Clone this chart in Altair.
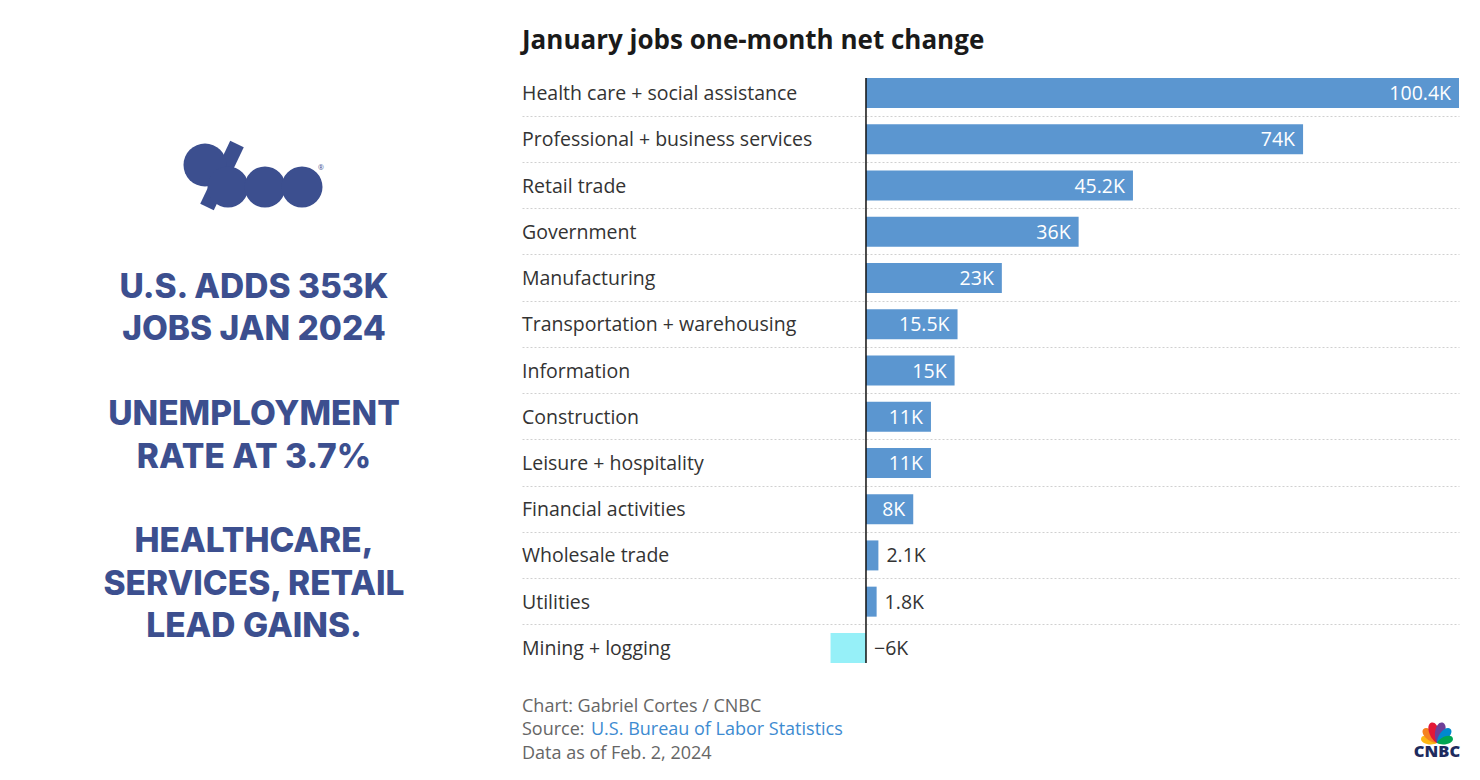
import altair as alt
import pandas as pd

categories = [
    "Health care + social assistance",
    "Professional + business services",
    "Retail trade",
    "Government",
    "Manufacturing",
    "Transportation + warehousing",
    "Information",
    "Construction",
    "Leisure + hospitality",
    "Financial activities",
    "Wholesale trade",
    "Utilities",
    "Mining + logging",
]
values = [100.4, 74, 45.2, 36, 23, 15.5, 15, 11, 11, 8, 2.1, 1.8, -6]
value_labels = ["100.4K", "74K", "45.2K", "36K", "23K", "15.5K", "15K", "11K", "11K",
                "8K", "2.1K", "1.8K", "\u22126K"]

headline = ["U.S. ADDS 353K", "JOBS JAN 2024", "", "UNEMPLOYMENT", "RATE AT 3.7%", "",
            "HEALTHCARE,", "SERVICES, RETAIL", "LEAD GAINS."]
title_text = "January jobs one-month net change"
credit = "Chart: Gabriel Cortes / CNBC"
source_prefix = "Source: "
source_name = "U.S. Bureau of Labor Statistics"
data_date = "Data as of Feb. 2, 2024"

feather_colors = ["#fdb813", "#f58220", "#e31837", "#6e3f98", "#0089cf", "#00a651"]
feather_angles = [287, 316, 345, 15, 44, 73]
feather_sizes = [1100, 1500, 1800, 1800, 1500, 1100]

POS = "#5b96d0"
NEG = "#96f0f8"
NAVY = "#3c4f8f"
FONT = "Open Sans"
HEAD_FONT = "Inter"
W, H = 937, 601

df = pd.DataFrame({"cat": categories, "value": values, "label": value_labels})
df["labx"] = df["value"].clip(lower=0)

yscale = alt.Scale(domain=categories, paddingInner=0, paddingOuter=0)
xscale = alt.Scale(domain=[-58.24, 100.4], nice=False, zero=False)
yaxis = alt.Axis(grid=True, gridDash=[2, 2], gridColor="#d0d0d0", labels=False,
                 ticks=False, domain=False, title=None, bandPosition=1,
                 values=categories[:12])
Y = alt.Y("cat:N", scale=yscale, axis=yaxis)

base = alt.Chart(df)
one = alt.Chart(pd.DataFrame({"z": [0]}))

bars = base.mark_bar(size=30).encode(
    x=alt.X("value:Q", scale=xscale, axis=None),
    x2=alt.datum(0),
    y=Y,
    color=alt.condition("datum.value < 0", alt.value(NEG), alt.value(POS)),
)

zero = one.mark_rule(color="#111111", strokeWidth=1.5).encode(
    x=alt.X("z:Q", scale=xscale, axis=None), y=alt.value(8), y2=alt.value(593)
)

cat_text = base.mark_text(align="left", baseline="middle", fontSize=19.5, font=FONT,
                          color="#333333", dy=1).encode(
    x=alt.value(0), y=Y, text="cat:N"
)

inside = base.transform_filter("datum.value >= 5").mark_text(
    align="right", baseline="middle", dx=-8, dy=1, fontSize=19.5, font=FONT, color="white"
).encode(x=alt.X("value:Q", scale=xscale, axis=None), y=Y, text="label:N")

outside = base.transform_filter("datum.value < 5").mark_text(
    align="left", baseline="middle", dx=8, dy=1, fontSize=19.5, font=FONT, color="#333333"
).encode(x=alt.X("labx:Q", scale=xscale, axis=None), y=Y, text="label:N")

title = one.mark_text(align="left", baseline="middle", fontSize=26, fontWeight="bold",
                      font=FONT, color="#1a1a1a").encode(
    x=alt.value(0), y=alt.value(-29), text=alt.value(title_text)
)

head_layers = []
for i, line in enumerate(headline):
    if not line:
        continue
    head_layers.append(
        one.mark_text(align="center", baseline="middle", fontSize=33.5, fontWeight=800,
                      font=HEAD_FONT, color=NAVY).encode(
            x=alt.value(-268), y=alt.value(218 + i * 42.4), text=alt.value(line))
    )

def foot(txt, xpos, ypos, col):
    return one.mark_text(align="left", baseline="middle", fontSize=18, font=FONT,
                         color=col).encode(x=alt.value(xpos), y=alt.value(ypos),
                                           text=alt.value(txt))

foots = [foot(credit, 0, 637, "#666666"), foot(source_prefix, 0, 660, "#666666"),
         foot(source_name, 69, 660, "#3d8bd1"), foot(data_date, 0, 684, "#666666")]

def dot(xp, yp, sz):
    return one.mark_point(shape="circle", filled=True, opacity=1, color=NAVY,
                          size=sz).encode(x=alt.value(xp), y=alt.value(yp))

logo = [
    one.mark_rule(color=NAVY, strokeWidth=15, strokeCap="butt").encode(
        x=alt.value(-285), x2=alt.value(-315), y=alt.value(74), y2=alt.value(137)),
    dot(-317, 95, 1849), dot(-294, 117, 1681), dot(-257, 117, 1681), dot(-220, 117, 1681),
    one.mark_text(fontSize=7, color=NAVY, font=FONT).encode(
        x=alt.value(-201), y=alt.value(98), text=alt.value("\u00ae")),
]

fdf = pd.DataFrame({"c": feather_colors, "a": feather_angles, "s": feather_sizes})
feathers = alt.Chart(fdf).mark_point(
    shape="M0,0 C-0.32,-0.3 -0.3,-1 0,-1 C0.3,-1 0.32,-0.3 0,0 Z",
    filled=True, opacity=1, strokeWidth=0
).encode(
    x=alt.value(915), y=alt.value(673),
    color=alt.Color("c:N", scale=None), angle=alt.Angle("a:Q", scale=None),
    size=alt.Size("s:Q", scale=None),
)
cnbc = one.mark_text(fontSize=16.5, fontWeight=800, font=FONT, color="#1d2b5e",
                     baseline="middle").encode(
    x=alt.value(915), y=alt.value(682), text=alt.value("CNBC"))

chart = alt.layer(
    bars, zero, cat_text, inside, outside, title, *head_layers, *foots,
    *logo, feathers, cnbc,
).properties(
    width=W, height=H,
    autosize=alt.AutoSizeParams(type="none"),
    padding={"left": 514, "top": 62, "right": 13, "bottom": 101},
    background="white",
).configure_view(stroke=None)

chart.save("out.html", embed_options={"renderer": "svg", "actions": False})
